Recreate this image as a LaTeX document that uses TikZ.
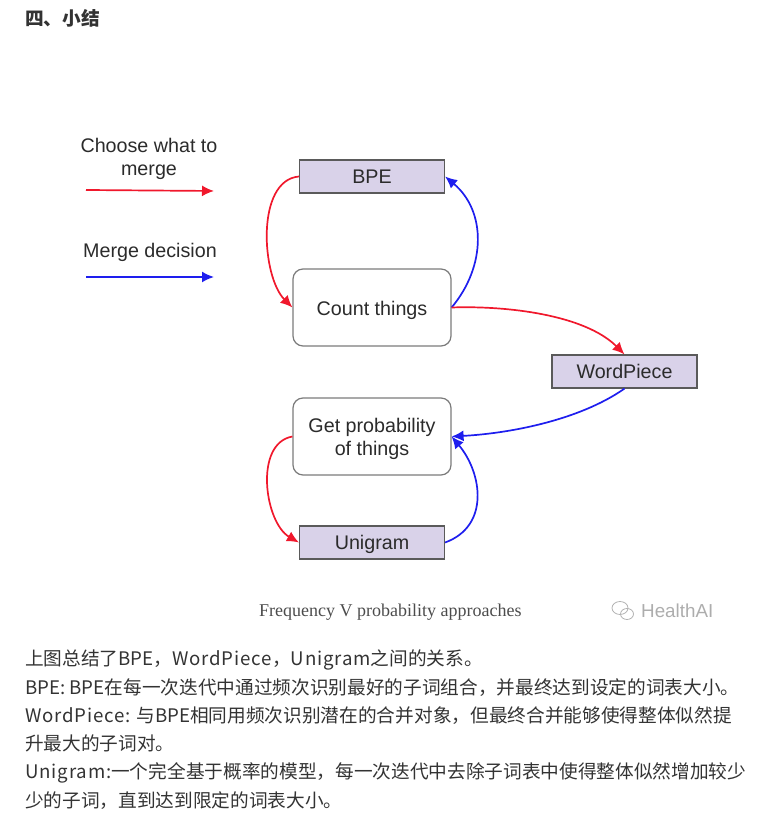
\documentclass[tikz,border=0pt]{standalone}
\usepackage{fontspec}
\setmainfont{Noto Sans CJK SC}
\newfontfamily\arialfont{Liberation Sans}
\newfontfamily\timesfont{Liberation Serif}
\newfontfamily\widefont[LetterSpace=4.5]{Noto Sans CJK SC}
\newcommand{\wideword}[1]{{\widefont #1}}
\newcommand{\topstrut}{\rule{0pt}{20pt}}
\definecolor{boxfill}{HTML}{D9D2E9}
\definecolor{boxline}{HTML}{5A5A5A}
\definecolor{labelgray}{HTML}{2B2B2B}
\definecolor{bodygray}{HTML}{333333}
\definecolor{redline}{HTML}{F0182C}
\definecolor{blueline}{HTML}{1E1EEE}
\usetikzlibrary{arrows.meta}
\tikzset{
  wordbox/.style={draw=boxline,line width=1.2pt,fill=boxfill,minimum width=145pt,minimum height=33pt,inner sep=0pt,text height=19pt,text depth=5pt,text=labelgray,font=\arialfont\fontsize{19.7}{22}\selectfont},
  stagebox/.style={draw=boxline!80,line width=1.2pt,rounded corners=10pt,fill=white,minimum width=158pt,minimum height=77pt,inner sep=0pt,align=center,text=labelgray,font=\arialfont\fontsize{19.7}{23}\selectfont},
  legendlabel/.style={inner sep=0pt,align=center,text=labelgray,font=\arialfont\fontsize{19.7}{23.5}\selectfont},
  bodyline/.style={anchor=base west,inner sep=0pt,text=bodygray,font=\fontsize{18.67}{22}\selectfont},
  redarrow/.style={draw=redline,line width=1.7pt,-{Latex[length=12pt,width=11pt]}},
  bluearrow/.style={draw=blueline,line width=1.7pt,-{Latex[length=12pt,width=11pt]}},
}
\begin{document}
\begin{tikzpicture}[x=1pt,y=1pt]
    \useasboundingbox (0,0) rectangle (761,822);

    % heading
    \node[bodyline,font=\bfseries\fontsize{18.67}{22}\selectfont] (heading) at (25,796) {四、小结};

    % legend
    \node[legendlabel] (redlabel) at (149,663) {Choose what to\\merge};
    \node[legendlabel] (bluelabel) at (150,570) {Merge decision};
    \coordinate (redstart) at (86,632);
    \coordinate (redend) at (214,631);
    \coordinate (bluestart) at (86,545);
    \coordinate (blueend) at (214,545);
    \draw[redarrow] (redstart) -- (redend);
    \draw[bluearrow] (bluestart) -- (blueend);

    % boxes
    \node[wordbox] (bpe) at (372,645.5) {BPE};
    \node[stagebox] (count) at (372,514.5) {\topstrut Count things};
    \node[wordbox] (wordpiece) at (624.5,450.5) {WordPiece};
    \node[stagebox] (prob) at (372,385.5) {\topstrut Get probability\\of things};
    \node[wordbox] (unigram) at (372,279.5) {Unigram};

    % connectors
    \draw[redarrow] (bpe.west) to[out=185,in=135,looseness=0.85] (count.west);
    \draw[bluearrow] (count.east) to[out=50,in=-40,looseness=1.05] (bpe.east);
    \draw[redarrow] (count.east) to[out=2,in=135,looseness=0.8] (wordpiece.north);
    \draw[bluearrow] (wordpiece.south) to[out=215,in=3,looseness=0.8] (prob.east);
    \draw[redarrow] (prob.west) to[out=190,in=150,looseness=0.95] (unigram.west);
    \draw[bluearrow] (unigram.east) to[out=20,in=-50,looseness=1.15] (prob.east);

    % caption
    \node[inner sep=0pt,anchor=west,text=black!70,font=\timesfont\fontsize{18}{20}\selectfont] (caption) at (259,210) {Frequency V probability approaches};
    \draw[black!30,line width=0.8pt] (620,214) ellipse (8pt and 6.5pt) (627,208) ellipse (6.5pt and 5.5pt);
    \node[inner sep=0pt,anchor=west,text=black!32,font=\arialfont\fontsize{18.8}{20}\selectfont] (mark) at (641,211) {HealthAI};

    % body text
    \node[bodyline] (lineone) at (25,156) {上图总结了BPE，\wideword{WordPiece}，\wideword{Unigram}之间的关系。};
    \node[bodyline] (linetwo) at (25,127.5) {BPE: BPE在每一次迭代中通过频次识别最好的子词组合，并最终达到设定的词表大小。};
    \node[bodyline] (linethree) at (25,99) {\wideword{WordPiece:} 与BPE相同用频次识别潜在的合并对象，但最终合并能够使得整体似然提};
    \node[bodyline] (linefour) at (25,71) {升最大的子词对。};
    \node[bodyline] (linefive) at (25,43) {\wideword{Unigram:}一个完全基于概率的模型，每一次迭代中去除子词表中使得整体似然增加较少};
    \node[bodyline] (linesix) at (25,14) {少的子词，直到达到限定的词表大小。};
\end{tikzpicture}
\end{document}
